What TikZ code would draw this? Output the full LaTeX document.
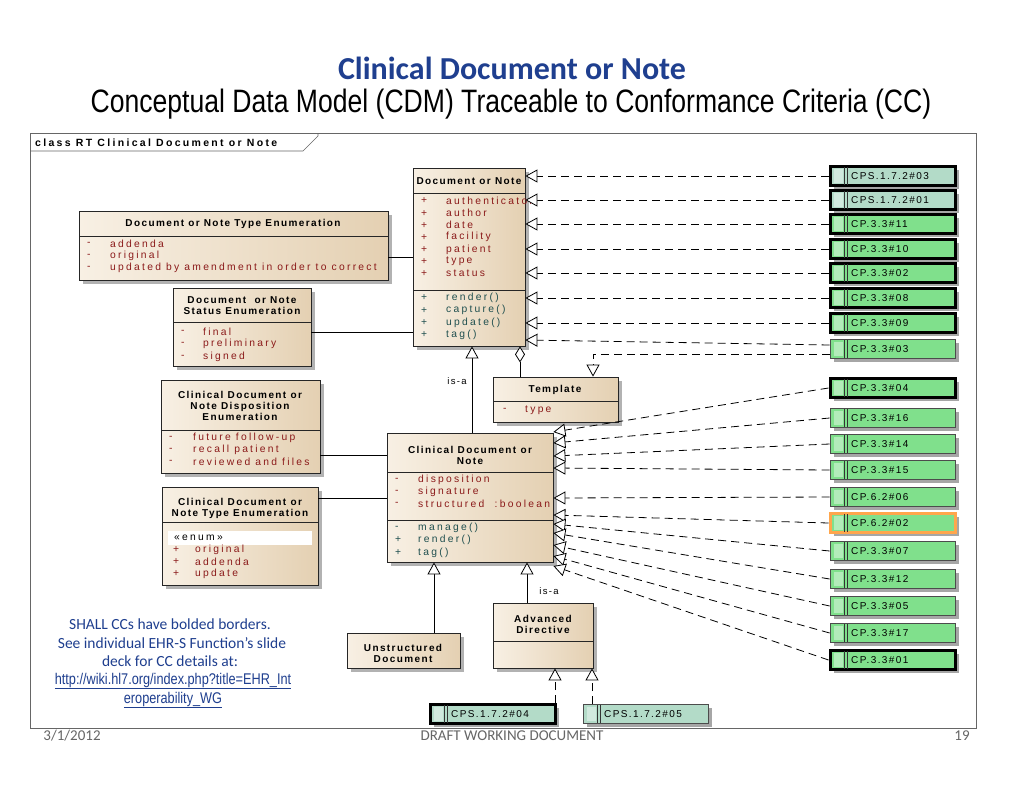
\documentclass[tikz,border=0pt]{standalone}
\usepackage{fontspec}
\setmainfont{Liberation Sans}
\newfontfamily\uml[LetterSpace=14]{Liberation Sans}
\newfontfamily\umlw[LetterSpace=22]{Liberation Sans}
\newfontfamily\cali{Carlito}
\newfontfamily\narrow[FakeStretch=0.82]{Liberation Sans}
\usetikzlibrary{arrows.meta}
\definecolor{attr}{HTML}{8B1A1A}
\definecolor{oper}{HTML}{1F4F4F}
\definecolor{cpsfill}{HTML}{B3DBC8}
\definecolor{cpfill}{HTML}{80E08C}
\definecolor{beigeL}{HTML}{F8F0E4}
\definecolor{beigeR}{HTML}{E4D0B2}
\definecolor{ttl}{HTML}{1F3F8F}
\tikzset{
 clsbox/.style={draw=black!85, line width=0.8pt, left color=beigeL, right color=beigeR, inner sep=0pt},
 ccbox/.style={minimum width=125pt, minimum height=19pt, inner sep=0pt},
 bold/.style={draw=black, line width=3pt},
 thin/.style={draw=black!70, line width=0.7pt},
 orng/.style={draw=orange!70, line width=3pt},
 real/.style={dashed, dash pattern=on 8pt off 5pt, line width=0.8pt, -{Triangle[open,length=12pt,width=13pt,fill=white]}},
 inh/.style={line width=0.8pt, -{Triangle[open,length=12pt,width=13pt,fill=white]}},
 agg/.style={line width=0.8pt, -{Diamond[open,length=16pt,width=10pt,fill=white]}},
 assoc/.style={line width=0.8pt},
 ut/.style={font=\uml\fontsize{10}{11}\selectfont\bfseries, align=center, inner sep=0pt},
 ua/.style={font=\umlw\fontsize{10.3}{11}\selectfont, text=attr, anchor=west, inner sep=0pt},
 uo/.style={font=\umlw\fontsize{10.3}{11}\selectfont, text=oper, anchor=west, inner sep=0pt},
 cct/.style={font=\uml\fontsize{10}{11}\selectfont, anchor=west, inner sep=0pt},
 note/.style={font=\cali\fontsize{15.5}{17}\selectfont, text=ttl, inner sep=0pt},
 foot/.style={font=\cali\fontsize{15}{17}\selectfont, text=black!60}
}
\newcommand\mkcls[5]{%
 \fill[black!30] (#2+4,#3+4) rectangle (#4+4,#5+4);
 \node[clsbox, minimum width={(#4-#2)*1pt}, minimum height={(#5-#3)*1pt}] (#1) at ({(#2+#4)/2},{(#3+#5)/2}) {};}
\newcommand\mkcc[6]{%
 \fill[black!35] (#2+4,#3-6) rectangle (#2+129,#3+13);
 \node[ccbox, fill=#5, #6] (#1) at (#2+62.5,#3) {};
 \fill[#5!60!white] (#2+4,#3-7) rectangle (#2+13,#3+7);
 \draw[black!80, line width=0.6pt] (#2+14,#3-9) -- (#2+14,#3+9) (#2+17,#3-9) -- (#2+17,#3+9);
 \node[cct] at (#2+21,#3) {#4};}
\begin{document}
\begin{tikzpicture}[x=1pt,y=-1pt]
\useasboundingbox (0,0) rectangle (1024,792);
\fill[white] (0,0) rectangle (1024,792);
% titles
\node[font=\cali\fontsize{32}{36}\selectfont\bfseries, text=ttl] (t1) at (512,68) {Clinical Document or Note};
\node[font=\narrow\fontsize{32.4}{36}\selectfont] (t2) at (511,104) {Conceptual Data Model (CDM) Traceable to Conformance Criteria (CC)};
% frame
\draw[black!60, line width=0.6pt] (30,133) rectangle (976,728);
\draw[black!60, line width=0.6pt] (30,151) -- (303,151) -- (318,136) -- (318,133);
\node[font=\umlw\fontsize{10.5}{11}\selectfont\bfseries, anchor=west, inner sep=0pt] (tab) at (35,143) {class RT Clinical Document or Note};
% footer
\node[foot] (f1) at (72,736) {3/1/2012};
\node[foot] (f2) at (512,736) {DRAFT WORKING DOCUMENT};
\node[foot] (f3) at (962,736) {19};
% note text
\node[note] (n1) at (170,624) {SHALL CCs have bolded borders.};
\node[note] (n2) at (172,643) {See individual EHR-S Function’s slide};
\node[note] (n3) at (170,661) {deck for CC details at:};
\node[font=\narrow\fontsize{15.5}{17}\selectfont, text=ttl, inner sep=0pt] (n4) at (173,681) {\underline{http://wiki.hl7.org/index.php?title=EHR\_Int}};
\node[font=\narrow\fontsize{15.5}{17}\selectfont, text=ttl, inner sep=0pt] (n5) at (173,700) {\underline{eroperability\_WG}};

% ---------- classes ----------
\mkcls{dn}{413}{168}{525}{346}
\node[ut] at (469,181) {Document or Note};
\draw[black!85,line width=0.8pt] (413,193) -- (525,193) (413,290) -- (525,290);
\foreach \t [count=\i from 0] in {authenticator,author,date,facility,patient,type,status}{
 \node[ua] at (421,201+12.1*\i) {+};
 \node[ua] at (446,201+12.1*\i) {\t};}
\foreach \t [count=\i from 0] in {render(),capture(),update(),tag()}{
 \node[uo] at (421,298+12.3*\i) {+};
 \node[uo] at (446,298+12.3*\i) {\t};}

\mkcls{te}{79}{211}{388}{280}
\node[ut] at (233,224) {Document or Note Type Enumeration};
\draw[black!85,line width=0.8pt] (79,236) -- (388,236);
\foreach \t [count=\i from 0] in {addenda,original,updated by amendment in order to correct}{
 \node[ua] at (87,244+12*\i) {-};
 \node[ua] at (110,244+12*\i) {\t};}

\mkcls{st}{173}{288}{311}{366}
\node[ut] at (242,306) {Document \ or Note\\Status Enumeration};
\draw[black!85,line width=0.8pt] (173,322) -- (311,322);
\foreach \t [count=\i from 0] in {final,preliminary,signed}{
 \node[ua] at (181,332+12.3*\i) {-};
 \node[ua] at (203,332+12.3*\i) {\t};}

\mkcls{di}{161}{380}{320}{473}
\node[ut] at (240,406) {Clinical Document or\\Note Disposition\\Enumeration};
\draw[black!85,line width=0.8pt] (161,430) -- (320,430);
\foreach \t [count=\i from 0] in {future follow-up,recall patient,reviewed and files}{
 \node[ua] at (169,438+12*\i) {-};
 \node[ua] at (193,438+12*\i) {\t};}

\mkcls{tf}{162}{487}{318}{585}
\node[ut] at (240,508) {Clinical Document or\\Note Type Enumeration};
\draw[black!85,line width=0.8pt] (162,522) -- (318,522);
\fill[white] (168,531) rectangle (312,545);
\node[ua, text=black] at (174,538) {«enum»};
\foreach \t [count=\i from 0] in {original,addenda,update}{
 \node[ua] at (173,550+12*\i) {+};
 \node[ua] at (195,550+12*\i) {\t};}

\mkcls{tp}{493}{377}{618}{422}
\node[ut] at (555,390) {Template};
\draw[black!85,line width=0.8pt] (493,401) -- (618,401);
\node[ua] at (503,410) {-};
\node[ua] at (525,410) {type};

\mkcls{cd}{387}{433}{553}{562}
\node[ut] at (470,455) {Clinical Document or\\Note};
\draw[black!85,line width=0.8pt] (387,472) -- (553,472) (387,520) -- (553,520);
\foreach \t [count=\i from 0] in {disposition,signature,structured \ :boolean}{
 \node[ua] at (395,480+12*\i) {-};
 \node[ua] at (418,480+12*\i) {\t};}
\node[uo] at (395,528) {-};  \node[uo] at (418,528) {manage()};
\node[uo] at (395,540) {+};  \node[uo] at (418,540) {render()};
\node[uo] at (395,553) {+};  \node[uo] at (418,553) {tag()};

\mkcls{ud}{347}{633}{460}{668}
\node[ut] at (403,653) {Unstructured\\Document};

\mkcls{ad}{493}{603}{593}{668}
\node[ut] at (543,624) {Advanced\\Directive};
\draw[black!85,line width=0.8pt] (493,641) -- (593,641);

% ---------- CC boxes ----------
\mkcc{c1}{830}{176}{CPS.1.7.2\#03}{cpsfill}{bold}
\mkcc{c2}{830}{200}{CPS.1.7.2\#01}{cpsfill}{bold}
\mkcc{c3}{830}{224}{CP.3.3\#11}{cpfill}{bold}
\mkcc{c4}{830}{249}{CP.3.3\#10}{cpfill}{bold}
\mkcc{c5}{830}{273}{CP.3.3\#02}{cpfill}{bold}
\mkcc{c6}{830}{298}{CP.3.3\#08}{cpfill}{bold}
\mkcc{c7}{830}{323}{CP.3.3\#09}{cpfill}{bold}
\mkcc{c8}{830}{349}{CP.3.3\#03}{cpfill}{thin}
\mkcc{d1}{830}{388}{CP.3.3\#04}{cpfill}{bold}
\mkcc{d2}{830}{418}{CP.3.3\#16}{cpfill}{thin}
\mkcc{d3}{830}{444}{CP.3.3\#14}{cpfill}{thin}
\mkcc{d4}{830}{470}{CP.3.3\#15}{cpfill}{thin}
\mkcc{d5}{830}{497}{CP.6.2\#06}{cpfill}{thin}
\mkcc{d6}{830}{523}{CP.6.2\#02}{cpfill}{orng}
\mkcc{d7}{830}{551}{CP.3.3\#07}{cpfill}{thin}
\mkcc{d8}{830}{579}{CP.3.3\#12}{cpfill}{thin}
\mkcc{d9}{830}{606}{CP.3.3\#05}{cpfill}{thin}
\mkcc{d10}{830}{633}{CP.3.3\#17}{cpfill}{thin}
\mkcc{d11}{830}{660}{CP.3.3\#01}{cpfill}{bold}
\mkcc{e1}{430}{714}{CPS.1.7.2\#04}{cpsfill}{bold}
\mkcc{e2}{583}{714}{CPS.1.7.2\#05}{cpsfill}{thin}

% ---------- connectors ----------
\foreach \n/\y in {c1/176,c2/200,c3/224,c4/249,c5/273,c6/298,c7/323}
 \draw[real] (\n.west) -- (dn.east |- 0,\y);
\draw[real] ([yshift=4pt]c8.west) -- (dn.east |- 0,340);
\draw[real] ([yshift=-5pt]c8.west) -- (593,354) -- (tp.north -| 593,0);
\foreach \n/\y in {d1/432,d2/443,d3/456,d4/468,d5/498,d6/515,d7/524,d8/533,d9/545,d10/556,d11/566}
 \draw[real] (\n.west) -- (cd.east |- 0,\y);
\draw[real] (e1.north -| 555,0) -- (ad.south -| 555,0);
\draw[real] (e2.north -| 592,0) -- (ad.south -| 592,0);
\draw[inh] (cd.north -| 472,0) -- (dn.south -| 472,0);
\node[font=\uml\fontsize{9.5}{10}\selectfont, inner sep=0pt] (isa1) at (457,381) {is-a};
\draw[agg] (tp.north -| 520,0) -- (dn.south -| 520,0);
\draw[inh] (ud.north -| 434,0) -- (cd.south -| 434,0);
\draw[inh] (ad.north -| 527,0) -- (cd.south -| 527,0);
\node[font=\uml\fontsize{9.5}{10}\selectfont, inner sep=0pt] (isa2) at (549,591) {is-a};
\draw[assoc] (te.east |- 0,257) -- (dn.west |- 0,257);
\draw[assoc] (st.east |- 0,332) -- (dn.west |- 0,332);
\draw[assoc] (di.east |- 0,455) -- (cd.west |- 0,455);
\draw[assoc] (tf.east |- 0,498) -- (cd.west |- 0,498);
\end{tikzpicture}
\end{document}
